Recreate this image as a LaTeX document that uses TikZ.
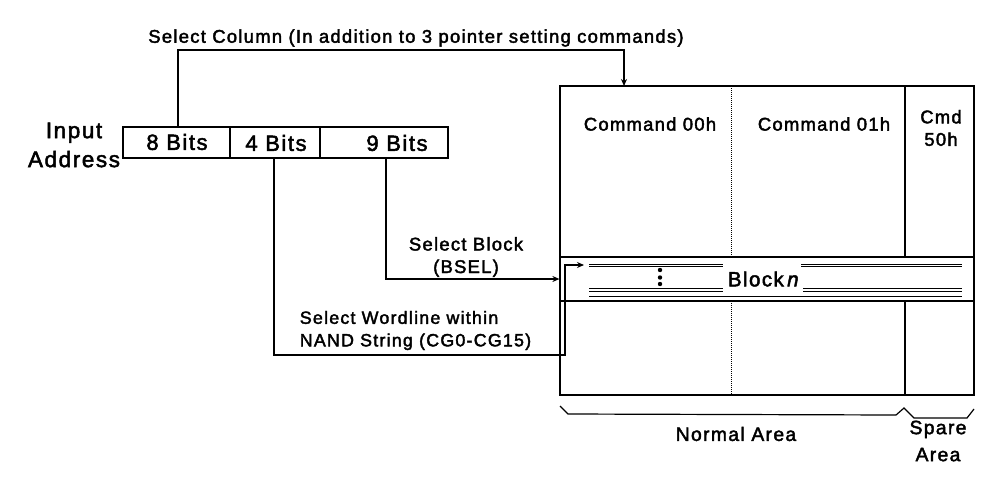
\documentclass[tikz,border=0pt]{standalone}
\usepackage{fontspec}
\setmainfont[LetterSpace=7,FakeBold=2.2,ItalicFeatures={FakeBold=2.2}]{Liberation Sans}
\usetikzlibrary{arrows.meta,calc}
\tikzset{
  line/.style={draw=black,line width=1.2pt},
  thin line/.style={draw=black,line width=0.9pt},
  arrowline/.style={line,-{Stealth[length=7pt,width=6pt]}},
  bitbox/.style={draw=black,line width=1.2pt,minimum height=31pt,inner sep=0pt},
  bitlbl/.style={font=\fontsize{22}{24}\selectfont,inner sep=0pt},
  lbl/.style={font=\fontsize{18.4}{22.5}\selectfont,align=center,inner sep=0pt},
  biglbl/.style={font=\fontsize{22.5}{29}\selectfont,align=center,inner sep=0pt},
  area/.style={font=\fontsize{19.3}{27}\selectfont,align=center,inner sep=0pt}
}
\begin{document}
\begin{tikzpicture}[x=1pt,y=-1pt]
\useasboundingbox[fill=white] (0,0) rectangle (984,498);
% address register
\node[bitbox,minimum width=107pt] (b8) at (176.5,142.5) {};
\node[bitbox,minimum width=90pt] (b4) at (275,142.5) {};
\node[bitbox,minimum width=128pt] (b9) at (384,142.5) {};
\node[bitlbl] (t8) at (177,142) {8 Bits};
\node[bitlbl] (t4) at (276,143) {4 Bits};
\node[bitlbl] (t9) at (397,143) {9 Bits};
\node[biglbl] (input) at (74,145) {Input\\Address};
% memory array
\node[draw=black,line width=1.2pt,minimum width=414pt,minimum height=309pt,inner sep=0pt] (arr) at (767,240.5) {};
\node[draw=black,line width=1.2pt,minimum width=414pt,minimum height=44pt,inner sep=0pt] (blk) at (767,279) {};
\coordinate (dt) at (731,86);
\coordinate (dm1) at (731,257);
\coordinate (dm2) at (731,301);
\coordinate (db) at (731,395);
\draw[line width=1pt,densely dotted] (dt) -- (dm1) (dm2) -- (db);
\coordinate (st) at (905,86);
\coordinate (sm1) at (905,257);
\coordinate (sm2) at (905,301);
\coordinate (sb) at (905,395);
\draw[line] (st) -- (sm1) (sm2) -- (sb);
\node[lbl] (c0) at (650,124) {Command 00h};
\node[lbl] (c1) at (824,124) {Command 01h};
\node[lbl] (c5) at (941,128) {Cmd\\50h};
% block lines
\draw[thin line] (589,264) -- (723,264) (589,266.5) -- (723,266.5);
\draw[thin line] (801,264) -- (962,264) (801,266.5) -- (962,266.5);
\draw[thin line] (589,288) -- (723,288) (589,291) -- (723,291) (589,296) -- (962,296);
\draw[thin line] (803,288) -- (962,288) (803,291) -- (962,291);
\fill (660,270) circle (2.2pt) (660,277.5) circle (2.2pt) (660,284) circle (2.2pt);
\node[lbl,font=\fontsize{20.5}{24}\selectfont,fill=white,inner xsep=1pt] (bn) at (764,279) {Block\,\textit{n}};
% connectors
\coordinate (c8a) at (178,50);
\coordinate (c8b) at (624,50);
\draw[arrowline] (178,127) -- (c8a) -- (c8b) -- (624,86);
\node[lbl] (selcol) at (416,38) {Select Column (In addition to 3 pointer setting commands)};
\draw[arrowline] (386,158) -- (386,279) -- (blk.west);
\node[lbl] (selblk) at (466,257) {Select Block\\(BSEL)};
\draw[arrowline] (274,158) -- (274,355) -- (565,355) -- (565,265) -- (584,265);
\node[lbl,align=left,font=\fontsize{17.8}{22.5}\selectfont] (selwl) at (415.5,330.5) {Select Wordline within\\NAND String (CG0-CG15)};
% braces
\draw[line] (560,406) -- (568,414) -- (896,415) -- (904,408) -- (914,418) -- (967,418) -- (974,409);
\node[area] (na) at (736,434) {Normal Area};
\node[area] (sa) at (938,441) {Spare\\Area};
\end{tikzpicture}
\end{document}
